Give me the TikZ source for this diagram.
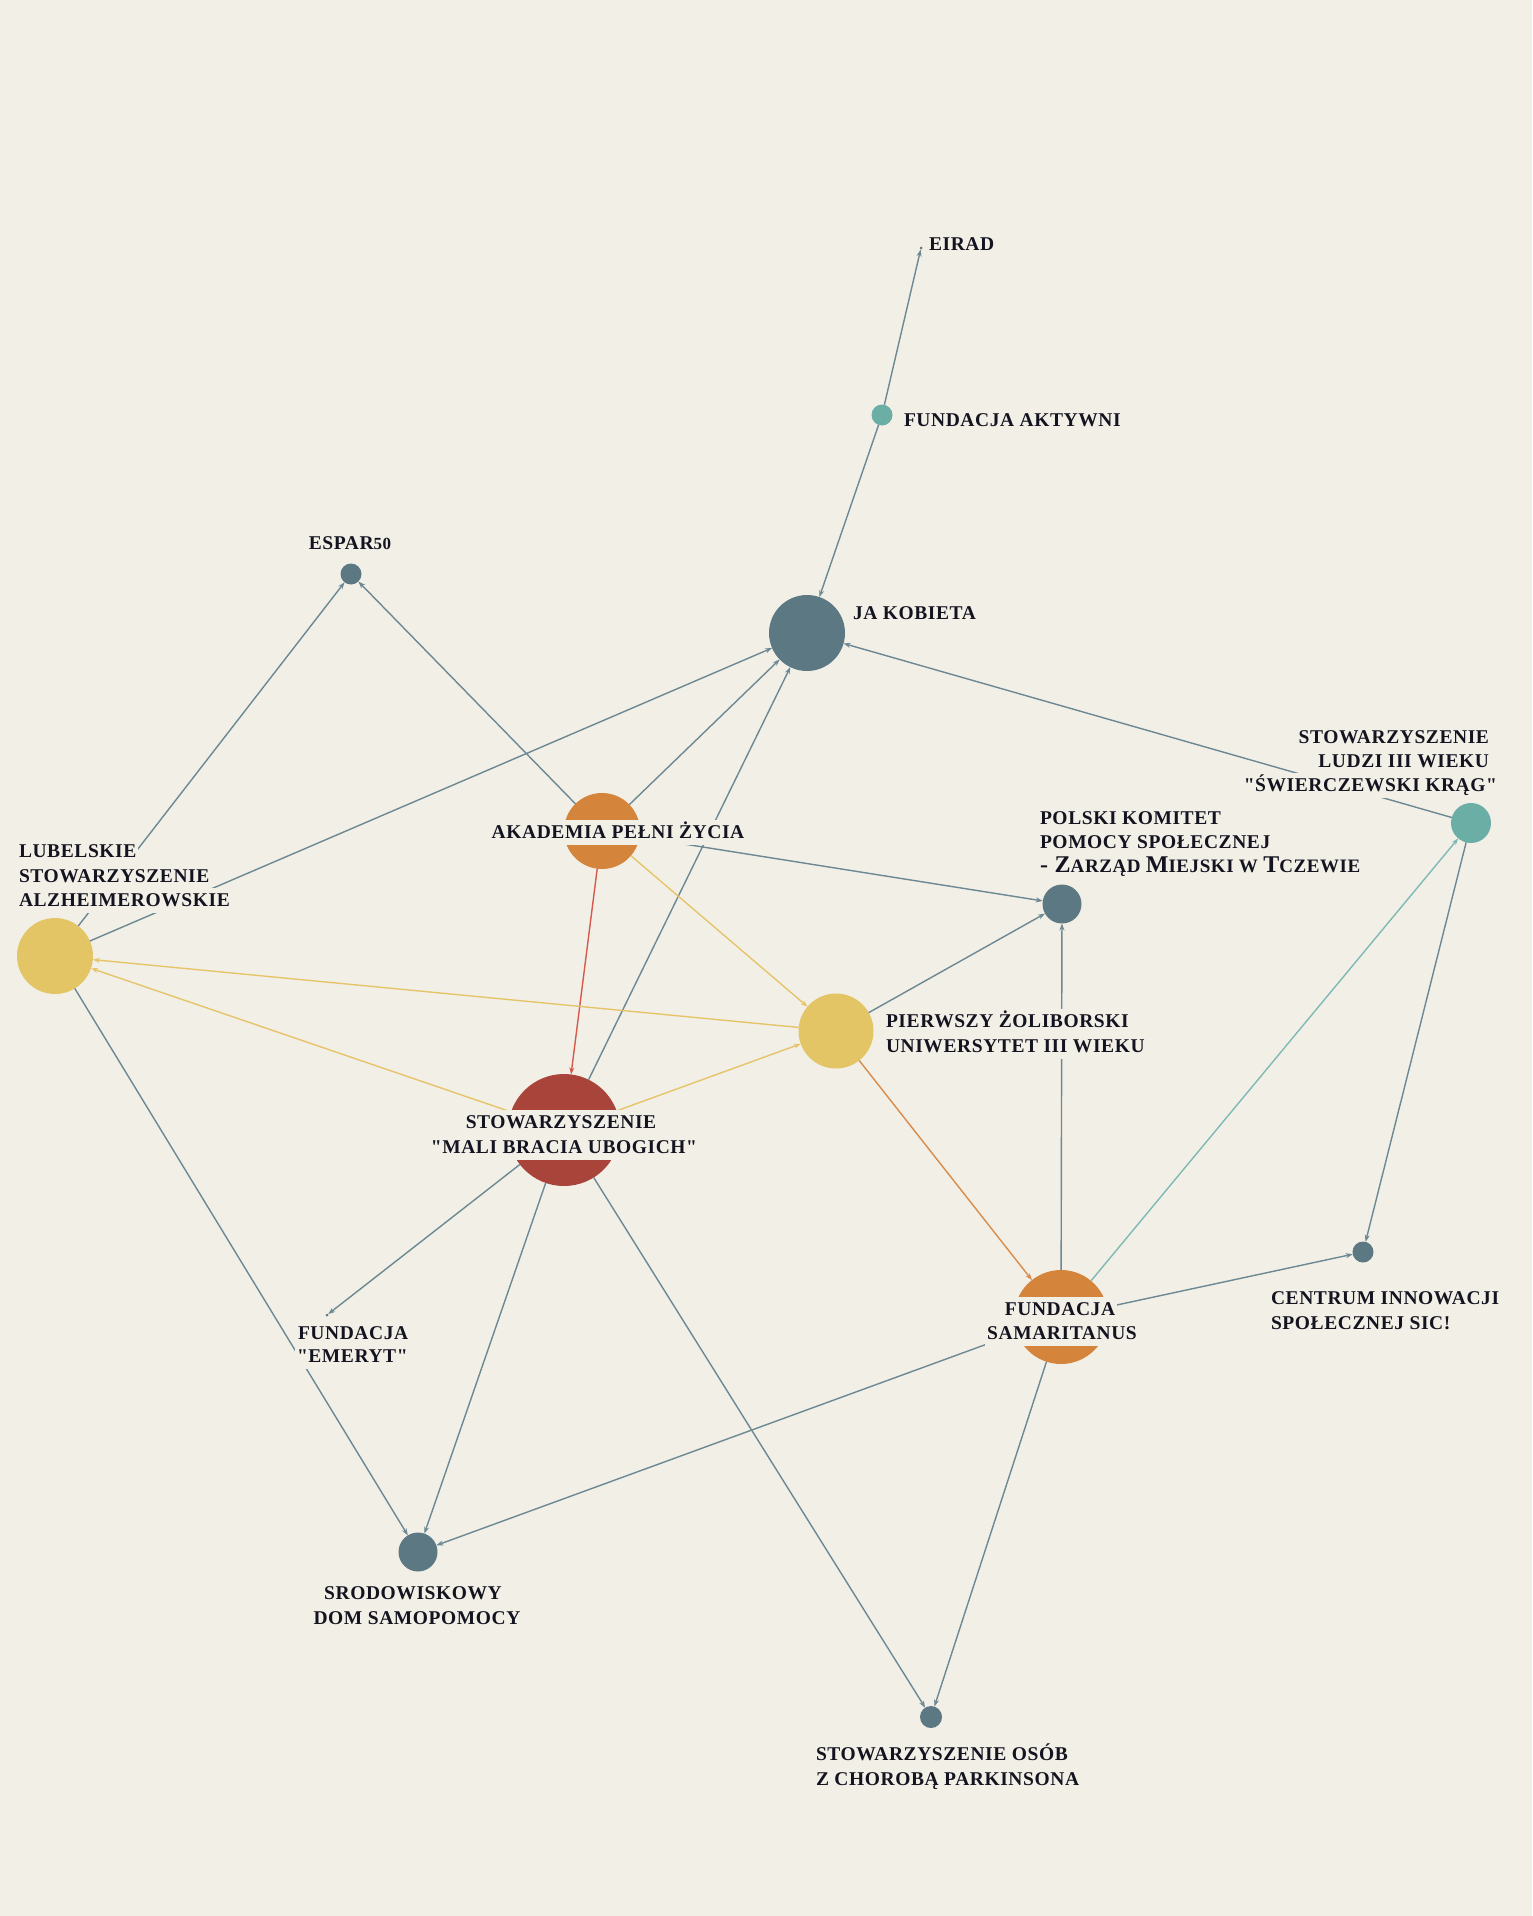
\documentclass[tikz,border=0pt]{standalone}
\usepackage{fontspec}
\setmainfont{Liberation Serif}
\newfontfamily\labfont{Liberation Serif}[LetterSpace=3]
\usetikzlibrary{arrows.meta}
\definecolor{bgc}{HTML}{F2EFE7}
\definecolor{cgrey}{HTML}{5B7883}
\definecolor{cteal}{HTML}{6BAEA6}
\definecolor{cyel}{HTML}{E4C566}
\definecolor{corg}{HTML}{D4853B}
\definecolor{cred}{HTML}{A9443B}
\definecolor{egrey}{HTML}{6C8893}
\definecolor{eyel}{HTML}{E6C46A}
\definecolor{ered}{HTML}{D45A4E}
\definecolor{eorg}{HTML}{D98C4A}
\definecolor{eteal}{HTML}{7DBAB4}
\definecolor{txt}{HTML}{141420}
\newcommand{\bgl}[1]{{\fontsize{24}{24}\selectfont #1}}
\begin{document}
\begin{tikzpicture}[x=1pt,y=-1pt,
  dot/.style={circle, inner sep=0pt, outer sep=0pt, minimum size=#1pt, draw=none},
  lbl/.style={fill=bgc, inner xsep=2pt, inner ysep=0pt, outer sep=0pt,
    text height=18pt, text depth=6.5pt, text=txt,
    font=\labfont\bfseries\fontsize{19.5}{24.5}\selectfont},
  eg/.style={line width=1.4pt, -{Stealth[length=7pt,width=5pt]}},
]
\fill[bgc] (0,0) rectangle (1532,1916);
\useasboundingbox (0,0) rectangle (1532,1916);

% nodes (circles)
\node[dot=3, fill=cgrey] (eirad) at (921,248) {};
\node[dot=21, fill=cteal] (aktywni) at (882,415) {};
\node[dot=76, fill=cgrey] (jakob) at (807,633) {};
\node[dot=21, fill=cgrey] (espar) at (351,574) {};
\node[dot=76, fill=corg] (akad) at (602,831) {};
\node[dot=76, fill=cyel] (lub) at (55,956) {};
\node[dot=40, fill=cteal] (swier) at (1471,823) {};
\node[dot=39, fill=cgrey] (pk) at (1062,904) {};
\node[dot=75, fill=cyel] (pierw) at (836,1031) {};
\node[dot=112, fill=cred] (mali) at (564,1130) {};
\node[dot=3, fill=cgrey] (emeryt) at (327,1315) {};
\node[dot=94, fill=corg] (samar) at (1061,1317) {};
\node[dot=21, fill=cgrey] (centrum) at (1363,1252) {};
\node[dot=39, fill=cgrey] (srod) at (418,1552) {};
\node[dot=22, fill=cgrey] (park) at (931,1717) {};

% edges
\draw[eg, egrey] (aktywni) -- (eirad);
\draw[eg, egrey] (aktywni) -- (jakob);
\draw[eg, egrey] (swier) -- (jakob);
\draw[eg, egrey] (lub) -- (jakob);
\draw[eg, egrey] (akad) -- (jakob);
\draw[eg, egrey] (mali) -- (jakob);
\draw[eg, egrey] (lub) -- (espar);
\draw[eg, egrey] (akad) -- (espar);
\draw[eg, egrey] (akad) -- (pk);
\draw[eg, ered] (akad) -- (mali);
\draw[eg, eyel] (akad) -- (pierw);
\draw[eg, eyel] (pierw) -- (lub);
\draw[eg, eyel] (mali) -- (lub);
\draw[eg, eyel] (mali) -- (pierw);
\draw[eg, egrey] (pierw) -- (pk);
\draw[eg, egrey] (samar) -- (pk);
\draw[eg, eorg] (pierw) -- (samar);
\draw[eg, eteal] (samar) -- (swier);
\draw[eg, egrey] (swier) -- (centrum);
\draw[eg, egrey] (samar) -- (centrum);
\draw[eg, egrey] (samar) -- (srod);
\draw[eg, egrey] (samar) -- (park);
\draw[eg, egrey] (mali) -- (park);
\draw[eg, egrey] (mali) -- (srod);
\draw[eg, egrey] (mali) -- (emeryt);
\draw[eg, egrey] (lub) -- (srod);

% labels
\node[lbl, anchor=base west] (tEirad) at (927,250) {EIRAD};
\node[lbl, anchor=base west] (tAktywni) at (902,426) {FUNDACJA AKTYWNI};
\node[lbl, anchor=base west] (tJakob) at (851,619) {JA KOBIETA};
\node[lbl, anchor=base] (tEspar) at (350,549) {ESPAR{\fontsize{17}{17}\selectfont 50}};
\node[lbl, anchor=base] (tAkad) at (618,838) {AKADEMIA PEŁNI ŻYCIA};
\node[lbl, anchor=base west] (tLubA) at (17,857) {LUBELSKIE};
\node[lbl, anchor=base west] (tLubB) at (17,882) {STOWARZYSZENIE};
\node[lbl, anchor=base west] (tLubC) at (17,906) {ALZHEIMEROWSKIE};
\node[lbl, anchor=base east] (tSwA) at (1491,743) {STOWARZYSZENIE};
\node[lbl, anchor=base east] (tSwB) at (1491,767) {LUDZI III WIEKU};
\node[lbl, anchor=base east] (tSwC) at (1499,791) {"ŚWIERCZEWSKI KRĄG"};
\node[lbl, anchor=base west] (tPkA) at (1038,824) {POLSKI KOMITET};
\node[lbl, anchor=base west] (tPkB) at (1038,848) {POMOCY SPOŁECZNEJ};
\node[lbl, anchor=base west, font=\labfont\bfseries\fontsize{19}{24.5}\selectfont] (tPkC) at (1038,872) {\bgl{- Z}ARZĄD \bgl{M}IEJSKI W \bgl{T}CZEWIE};
\node[lbl, anchor=base west] (tPiA) at (884,1027) {PIERWSZY ŻOLIBORSKI};
\node[lbl, anchor=base west] (tPiB) at (884,1052) {UNIWERSYTET III WIEKU};
\node[lbl, anchor=base] (tMaA) at (561,1128) {STOWARZYSZENIE};
\node[lbl, anchor=base] (tMaB) at (564,1153) {"MALI BRACIA UBOGICH"};
\node[lbl, anchor=base west] (tEmA) at (296,1339) {FUNDACJA};
\node[lbl, anchor=base west] (tEmB) at (295,1362) {"EMERYT"};
\node[lbl, anchor=base] (tSaA) at (1060,1315) {FUNDACJA};
\node[lbl, anchor=base] (tSaB) at (1062,1339) {SAMARITANUS};
\node[lbl, anchor=base west] (tCeA) at (1269,1304) {CENTRUM INNOWACJI};
\node[lbl, anchor=base west] (tCeB) at (1269,1329) {SPOŁECZNEJ SIC!};
\node[lbl, anchor=base] (tSrA) at (413,1599) {SRODOWISKOWY};
\node[lbl, anchor=base] (tSrB) at (417,1624) {DOM SAMOPOMOCY};
\node[lbl, anchor=base west] (tPaA) at (814,1760) {STOWARZYSZENIE OSÓB};
\node[lbl, anchor=base west] (tPaB) at (814,1785) {Z CHOROBĄ PARKINSONA};
\end{tikzpicture}
\end{document}
